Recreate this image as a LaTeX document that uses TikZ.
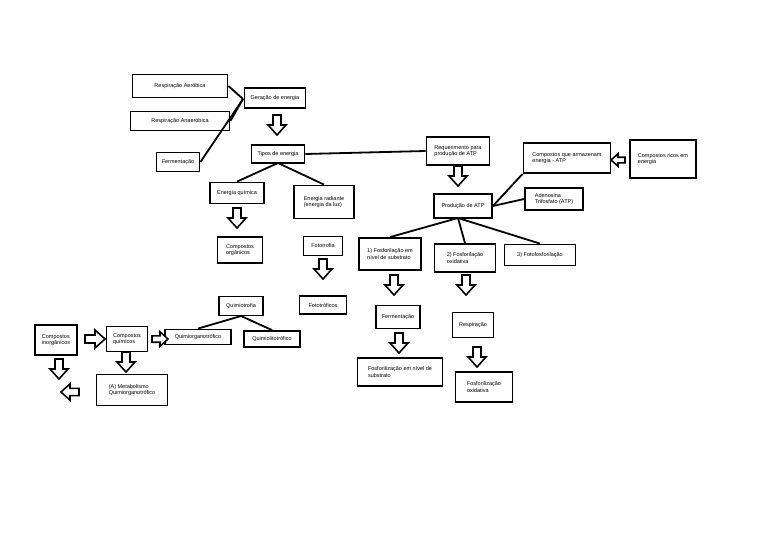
\documentclass[tikz,border=0pt]{standalone}
\usepackage{fontspec}
\setmainfont{Liberation Sans}
\begin{document}
\begin{tikzpicture}[x=1pt,y=-1pt,
 box/.style={draw,line width=1.8pt,font=\fontsize{5.5}{6.5}\selectfont,align=left,inner sep=1pt,anchor=center},
 ln/.style={line width=1.8pt},
 harr/.pic={\draw[line width=1.6pt,fill=white] (-4,-10)--(4,-10)--(4,0)--(9,0)--(0,10)--(-9,0)--(-4,0)--cycle;}]
\useasboundingbox (0,0) rectangle (768,543);
\def\B#1#2#3#4#5#6{\node[box,minimum width=#4,minimum height=#5] (#1) at (#2,#3) {#6};}
\B{ra}{180}{86}{95pt}{23pt}{Respiração Aeróbica}
\B{ran}{180}{121}{99pt}{19pt}{Respiração Anaeróbica}
\B{fe1}{178}{162}{43pt}{19pt}{Fermentação}
\B{ger}{275}{98}{61pt}{20pt}{Geração de energia}
\B{tip}{278}{154}{53pt}{18pt}{Tipos de energia}
\B{req}{458}{151}{63pt}{28pt}{Requerimento para\\produção de ATP}
\B{eq}{237}{193}{54pt}{21pt}{Energia química}
\B{er}{324}{202}{60pt}{33pt}{Energia radiante\\(energia da luz)}
\B{co}{240}{250}{45pt}{26pt}{Compostos\\orgânicos}
\B{fot}{323}{246}{39pt}{19pt}{Fototrofia}
\B{ftr}{323}{305}{47pt}{18pt}{Fototróficos}
\B{qui}{241}{306}{44pt}{19pt}{Quimiotrofia}
\B{qor}{198}{337}{66pt}{15pt}{Quimiorganotrófico}
\B{qli}{272}{339}{56pt}{16pt}{Quimiolitotrófico}
\B{cq}{127}{339}{41pt}{25pt}{Compostos\\químicos}
\B{ci}{56}{340}{42pt}{30pt}{Compostos\\inorgânicos}
\B{met}{132}{390}{71pt}{31pt}{(A) Metabolismo\\Quimiorganotrófico}
\B{pa}{463}{206}{58pt}{24pt}{Produção de ATP}
\B{cqa}{567}{158}{87pt}{30pt}{Compostos que armazenam\\energia - ATP}
\B{cr}{663}{159}{66pt}{38pt}{Compostos ricos em\\energia}
\B{ad}{554}{199}{58pt}{22pt}{Adenosina\\Trifosfato (ATP)}
\B{f1}{390}{254}{62pt}{32pt}{1) Fosforilação em\\nível de substrato}
\B{f2}{465}{258}{61pt}{28pt}{2) Fosforilação\\oxidativa}
\B{f3}{540}{255}{71pt}{21pt}{3) Fotofosforilação}
\B{fe2}{398}{317}{44pt}{23pt}{Fermentação}
\B{fn}{400}{372}{85pt}{28pt}{Fosforilização em nível de\\substrato}
\B{res}{473}{325}{41pt}{25pt}{Respiração}
\B{fox}{484}{387}{57pt}{30pt}{Fosforilização\\oxidativa}
\coordinate (g) at (243,99);
\draw[ln] (ra.east)--(g); \draw[ln] (ran.east)--(g); \draw[ln] (fe1.east)--(g);
\draw[ln] (tip.east)--(req.west);
\coordinate (t) at (278,163);
\draw[ln] (t)--(eq.north); \draw[ln] (t)--(er.north);
\coordinate (q) at (241,316);
\draw[ln] (q)--(qor.north); \draw[ln] (q)--(qli.north);
\coordinate (p) at (458,218);
\draw[ln] (p)--(f1.north); \draw[ln] (p)--(f2.north); \draw[ln] (p)--(f3.north);
\draw[ln] (pa.east)--(cqa.south west);
\draw[ln] (pa.east)--(ad.west);
\pic at (277,125) {harr};
\pic at (237,218) {harr};
\pic at (323,269) {harr};
\pic at (458,176) {harr};
\pic at (394,285) {harr};
\pic at (466,285) {harr};
\pic at (399,343) {harr};
\pic at (477,357) {harr};
\pic at (126,362) {harr};
\pic at (59,369) {harr};
\pic[rotate=90,scale=0.8] at (160,339) {harr};
\pic[rotate=90] at (95,339) {harr};
\pic[rotate=-90,scale=0.9] at (70,392) {harr};
\pic[rotate=-90,scale=0.7] at (618,160) {harr};
\end{tikzpicture}
\end{document}
